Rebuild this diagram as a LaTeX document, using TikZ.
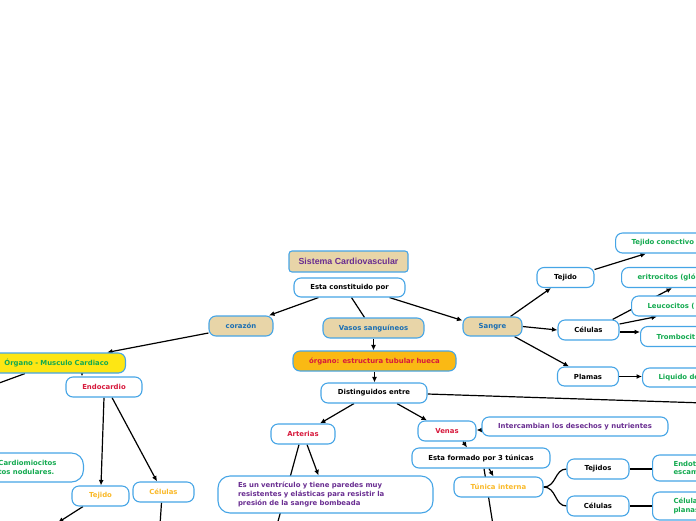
\documentclass[tikz,border=0pt]{standalone}
\usepackage{fontspec}
\setmainfont{DejaVu Sans}
\newfontfamily\arialf{Liberation Sans}
\usetikzlibrary{arrows.meta,calc}
\pgfdeclarelayer{background}
\pgfsetlayers{background,main}
\definecolor{bordc}{RGB}{70,165,230}
\definecolor{tanc}{RGB}{232,213,168}
\definecolor{bluet}{RGB}{25,110,180}
\definecolor{purpt}{RGB}{105,45,145}
\definecolor{redt}{RGB}{215,25,60}
\definecolor{orgf}{RGB}{250,185,20}
\definecolor{greent}{RGB}{20,170,80}
\definecolor{yelf}{RGB}{253,230,20}
\definecolor{orgt}{RGB}{250,185,40}
\begin{document}
\begin{tikzpicture}[x=1pt,y=-1pt,
  box/.style={draw=bordc, line width=1.1pt, rounded corners=7pt, fill=white, inner sep=0pt,
    font=\bfseries\fontsize{6.9}{8.6}\selectfont, text=black, minimum height=20pt},
  tanbox/.style={box, fill=tanc, text=bluet},
  cutl/.style={box, anchor=west, align=left, inner xsep=16pt, text width=130pt},
  arr/.style={-{Latex[length=5.5pt,width=5pt]}, line width=1.2pt},
  ln/.style={line width=1.2pt}]
\useasboundingbox (0,0) rectangle (696,520);
\clip (0,0) rectangle (696,520);
% top
\node[tanbox, minimum width=119pt, minimum height=21pt, rounded corners=3pt, text=purpt,
  font=\arialf\bfseries\fontsize{8.8}{10}\selectfont] (sys) at (348.5,261.5) {Sistema Cardiovascular};
\node[box, minimum width=111pt, minimum height=19pt] (const) at (349.5,287.5) {Esta constituido por};
\node[tanbox, minimum width=64pt, minimum height=20pt] (cor) at (241,326) {corazón};
\node[tanbox, minimum width=101pt] (vasos) at (373.5,328) {Vasos sanguíneos};
\node[tanbox, minimum width=59pt, minimum height=19pt] (sangre) at (492.5,326.5) {Sangre};
\node[box, fill=orgf, text=redt, minimum width=163pt] (organo) at (374.5,361) {órgano: estructura tubular hueca};
\node[box, minimum width=106pt] (dist) at (374,393) {Distinguidos entre};
\node[box, text=redt, minimum width=64pt] (art) at (303,434) {Arterias};
\node[box, text=redt, minimum width=58pt] (venas) at (447,431) {Venas};
\node[box, text=purpt, minimum width=186pt, minimum height=19pt] (inter) at (575,426.5) {Intercambian los desechos y nutrientes};
\node[box, minimum width=138pt] (formado) at (481,458) {Esta formado por 3 túnicas};
\node[box, text=purpt, minimum height=37pt, inner xsep=20pt, text width=175pt, align=left, rounded corners=12pt] (esun) at (325.5,494.5)
  {Es un ventrículo y tiene paredes muy\\resistentes y elásticas para resistir la\\presión de la sangre bombeada};
\node[box, text=orgt, minimum width=89pt] (tunica) at (498.5,487) {Túnica interna};
\node[box, minimum width=62pt] (tejidos2) at (598,469) {Tejidos};
\node[box, minimum width=62pt] (celulas2) at (598,506) {Células};
\node[cutl, text=greent, minimum height=26pt, inner xsep=21pt] (endot) at (652,468) {Endot\\escam};
\node[cutl, text=greent, minimum height=28pt, inner xsep=21pt] (cel3) at (652,506) {Célula\\planas};
% sangre branch
\node[box, minimum width=57pt] (tej1) at (565.5,277.5) {Tejido};
\node[box, minimum width=61pt] (cel1) at (588.5,330) {Células};
\node[box, minimum width=61pt, minimum height=19pt] (plamas) at (588,376.5) {Plamas};
\node[cutl, text=greent] (tcon) at (615,243) {Tejido conectivo};
\node[cutl, text=greent] (eri) at (621,277.5) {eritrocitos (gló};
\node[cutl, text=greent] (leu) at (631,306) {Leucocitos (};
\node[cutl, text=greent] (tro) at (640,336.5) {Trombocit};
\node[cutl, text=greent, minimum height=19pt] (liq) at (642,377.5) {Liquido de};
% left branch
\node[box, fill=yelf, text=greent, anchor=east, inner xsep=16pt, text width=105pt, align=left] (org2) at (126,363) {Órgano - Musculo Cardiaco};
\node[box, text=redt, minimum width=76pt] (endo) at (104,387) {Endocardio};
\node[box, text=greent, anchor=east, minimum height=29pt, inner xsep=26pt, text width=59pt, align=left, rounded corners=12pt] (cardio) at (84,467.5) {Cardiomiocitos\\tos nodulares.};
\node[box, text=orgt, minimum width=57pt] (tej3) at (100.5,496) {Tejido};
\node[box, text=orgt, minimum width=61pt] (cel3b) at (163.5,492) {Células};
% free ends
\coordinate (distend) at (720,403.5);
\coordinate (tunend) at (493,525);
\coordinate (artend) at (277,525);
\coordinate (orgend) at (-20,390);
\coordinate (tejend) at (58,522.5);
\coordinate (celend) at (160,525);
\coordinate (eo) at ([xshift=-22pt]endo.north);
\coordinate (iw) at ([yshift=-3.5pt]inter.west);
\coordinate (cw) at ([yshift=-2pt]cel1.east);
\begin{pgfonlayer}{background}
\draw[arr] ([xshift=-31pt]const.south) -- ([xshift=28pt]cor.north);
\draw[ln] ([xshift=2pt]const.south) -- ([xshift=-9pt]vasos.north);
\draw[arr] ([xshift=40pt]const.south) -- ([yshift=6pt]sangre.west);
\draw[arr] (vasos.south) -- (vasos.south |- organo.north);
\draw[arr] (organo.south) -- (organo.south |- dist.north);
\draw[arr] ([xshift=-20pt]dist.south) -- ([xshift=17pt]art.north);
\draw[arr] ([xshift=23pt]dist.south) -- ([xshift=-20pt]venas.north);
\draw[ln] ([yshift=-1pt]dist.east) -- (distend);
\draw[arr] ([xshift=16pt]venas.south) -- ([xshift=-14pt]formado.north);
\draw[arr] (iw) -- (iw -| venas.east);
\draw[arr] ([xshift=8pt]formado.south) -- ([xshift=-5pt]tunica.north);
\draw[ln] ([xshift=3pt]formado.south) -- (tunend);
\draw[ln] (tunica.east) .. controls +(13,0) and +(-12,0) .. (tejidos2.west);
\draw[ln] (tunica.east) .. controls +(13,0) and +(-12,0) .. (celulas2.west);
\draw[ln] (tejidos2.east) -- (tejidos2.east -| endot.west);
\draw[ln] (celulas2.east) -- (celulas2.east -| cel3.west);
\draw[arr] ([xshift=4pt]art.south) -- ([xshift=-7pt]esun.north);
\draw[ln] ([xshift=-4pt]art.south) -- (artend);
\draw[arr] ([xshift=18pt]sangre.north) -- ([xshift=-14.5pt]tej1.south);
\draw[arr] (sangre.east) -- (cel1.west);
\draw[arr] ([xshift=22pt]sangre.south) -- ([xshift=-19pt]plamas.north);
\draw[arr] ([yshift=8pt]tej1.east) -- ([xshift=31pt]tcon.south west);
\draw[arr] ([xshift=-7pt]cel1.north east) -- ([xshift=51pt]eri.south west);
\draw[arr] ([yshift=6pt]cel1.east) -- ([xshift=26pt]leu.south west);
\draw[arr] (cw) -- (cw -| tro.west);
\draw[arr] (plamas.east) -- (plamas.east -| liq.west);
\draw[arr] ([yshift=-7pt]cor.west) -- ([xshift=-19pt]org2.north east);
\draw[arr] (eo |- org2.south) -- (eo);
\draw[ln] ([xshift=-101pt]org2.south east) -- (orgend);
\draw[arr] (endo.south) -- ([xshift=0.5pt]tej3.north);
\draw[arr] ([xshift=8pt]endo.south) -- ([xshift=-6.5pt]cel3b.north);
\draw[arr] ([xshift=-17.5pt]tej3.south) -- (tejend);
\draw[ln] ([xshift=-2pt]cel3b.south) -- (celend);
\end{pgfonlayer}
\end{tikzpicture}
\end{document}
